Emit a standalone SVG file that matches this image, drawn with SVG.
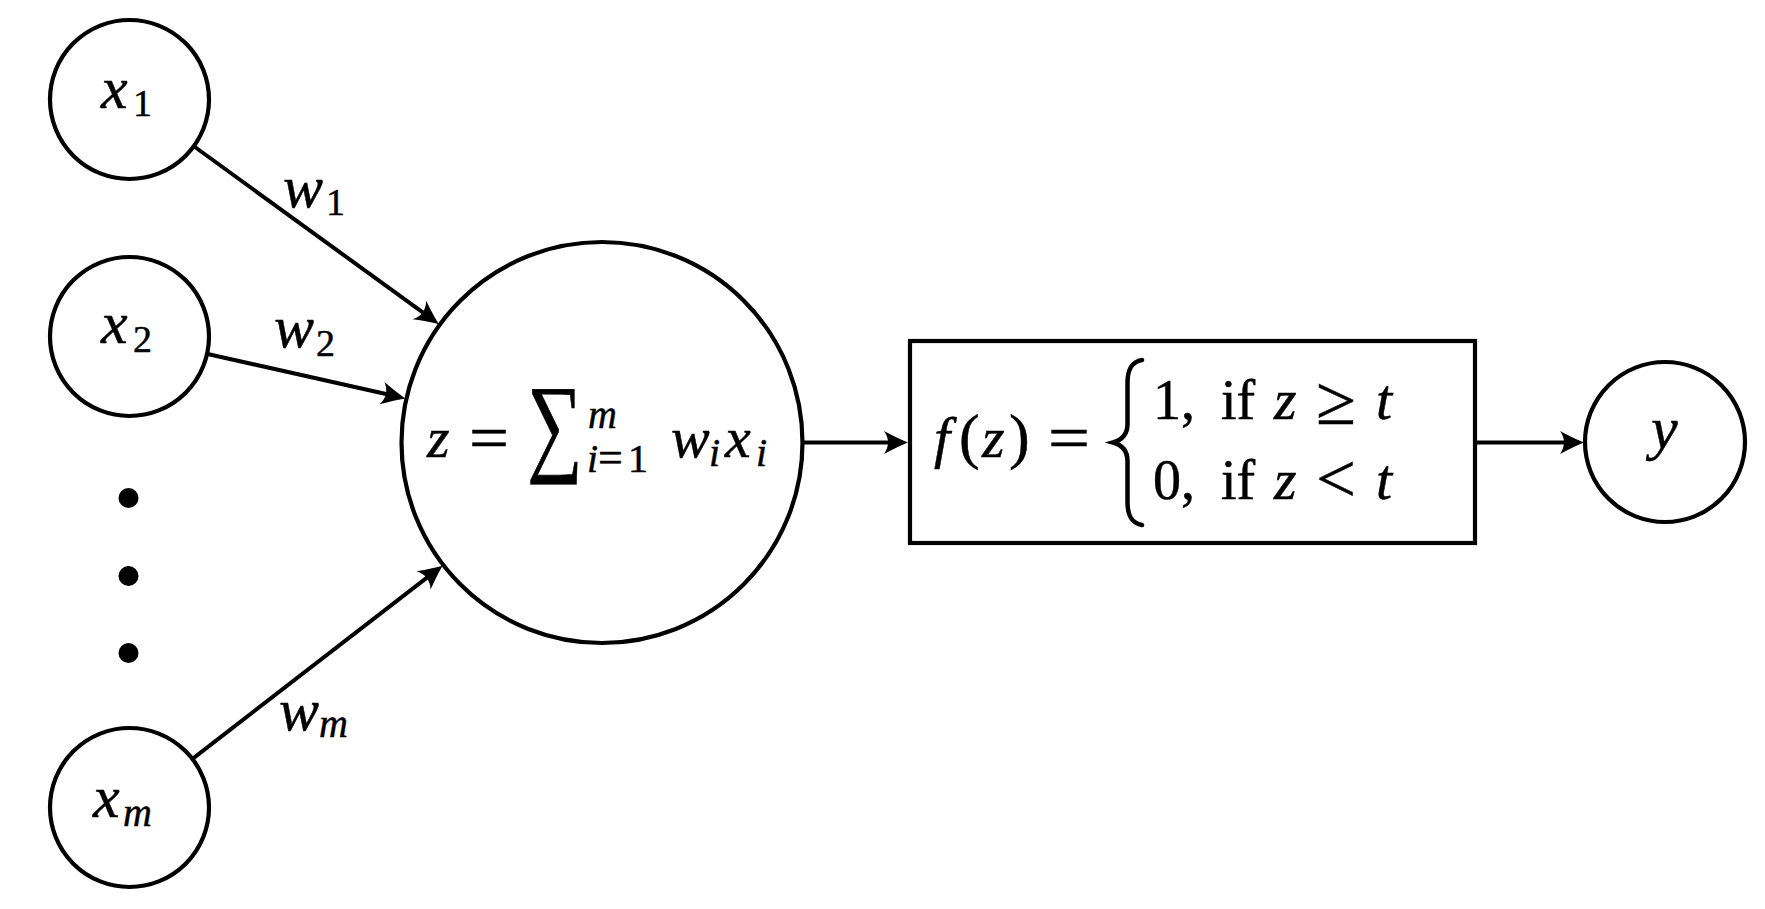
<svg xmlns="http://www.w3.org/2000/svg" width="1765" height="909" viewBox="0 0 1765 909">
<style>
.node{fill:#fff;stroke:#000;stroke-width:4.2}
.edge{fill:none;stroke:#000;stroke-width:4}
text{font-family:"Liberation Serif","Times New Roman",serif;fill:#000;stroke:#000;stroke-width:0.5}
.mi{font-style:italic;font-size:60px}
.sub{font-size:38px}
.subi{font-style:italic;font-size:40px}
.f{font-size:56px}
.fi{font-style:italic;font-size:58px}
.rel{font-size:64px}
</style>
<defs>
<marker id="arr" markerUnits="userSpaceOnUse" viewBox="0 -12 30 24" markerWidth="30" markerHeight="24" refX="22" refY="0" orient="auto">
<path d="M27,0 Q17,-4 3,-11.5 Q11,0 3,11.5 Q17,4 27,0 Z" fill="#000"/>
</marker>
</defs>
<rect width="1765" height="909" fill="#fff"/>
<g id="connectors">
<path class="edge" d="M194.2,146.5 L434.8,321.2" marker-end="url(#arr)"/>
<path class="edge" d="M207.6,354 L400.5,397.3" marker-end="url(#arr)"/>
<path class="edge" d="M192.8,758.6 L438.6,568.7" marker-end="url(#arr)"/>
<path class="edge" d="M803.5,442.5 L903,442.5" marker-end="url(#arr)"/>
<path class="edge" d="M1475,442.5 L1579,442.5" marker-end="url(#arr)"/>
<text class="mi" x="283" y="207">w</text><text class="sub" x="326" y="215">1</text>
<text class="mi" x="274" y="347">w</text><text class="sub" x="316" y="356">2</text>
<text class="mi" x="279" y="730">w</text><text class="subi" x="319" y="737">m</text>
</g>
<g id="x1">
<circle class="node" cx="129.5" cy="99.5" r="79.5"/>
<text class="mi" x="101" y="108">x</text><text class="sub" x="133" y="116">1</text>
</g>
<g id="x2">
<circle class="node" cx="129.5" cy="336.5" r="79.5"/>
<text class="mi" x="101" y="343">x</text><text class="sub" x="133" y="352">2</text>
</g>
<g id="dots">
<circle cx="128.5" cy="498" r="10"/>
<circle cx="128.5" cy="576" r="10"/>
<circle cx="128.5" cy="653" r="10"/>
</g>
<g id="xm">
<circle class="node" cx="129.5" cy="807.5" r="79.5"/>
<text class="mi" x="93" y="817">x</text><text class="subi" x="123" y="826">m</text>
</g>
<g id="sum">
<circle class="node" cx="602" cy="442.5" r="200.5"/>
<text class="fi" x="427" y="457">z</text>
<text class="rel" x="469" y="459" textLength="40" lengthAdjust="spacingAndGlyphs">=</text>
<text transform="translate(527,461) scale(1,1.4)" x="0" y="0" style="font-size:78px">∑</text>
<text class="subi" x="588" y="428">m</text>
<text y="472"><tspan class="subi" x="587">i</tspan><tspan x="598" style="font-size:44px">=</tspan><tspan x="628" style="font-size:40px">1</tspan></text>
<text y="457"><tspan class="fi" x="671">w</tspan><tspan class="subi" x="709" dy="9">i</tspan><tspan class="fi" x="725" dy="-9">x</tspan><tspan class="subi" x="756" dy="9">i</tspan></text>
</g>
<g id="step">
<rect class="node" x="910" y="341" width="565" height="202"/>
<text y="457"><tspan class="fi" x="934">f</tspan><tspan x="959" style="font-size:62px">(</tspan><tspan class="fi" x="982">z</tspan><tspan x="1009" style="font-size:62px">)</tspan></text>
<text class="rel" x="1048" y="459" textLength="42" lengthAdjust="spacingAndGlyphs">=</text>
<path d="M1142,360 C1131,362 1127.5,370 1127.5,383 L1127.5,424 C1127.5,435 1122,440 1113,442.5 C1122,445 1127.5,450 1127.5,461 L1127.5,502 C1127.5,515 1131,523 1142,525" fill="none" stroke="#000" stroke-width="4.5" stroke-linecap="round"/>
<text class="f" y="419"><tspan x="1153">1,</tspan><tspan x="1221">if</tspan><tspan class="fi" x="1274">z</tspan></text>
<text x="1316" y="424" style="font-size:70px" textLength="40" lengthAdjust="spacingAndGlyphs">≥</text>
<text class="fi" x="1376" y="419">t</text>
<text class="f" y="499"><tspan x="1153">0,</tspan><tspan x="1221">if</tspan><tspan class="fi" x="1274">z</tspan></text>
<text x="1316" y="502" style="font-size:70px" textLength="40" lengthAdjust="spacingAndGlyphs">&lt;</text>
<text class="fi" x="1376" y="499">t</text>
</g>
<g id="y">
<circle class="node" cx="1665" cy="442" r="80"/>
<text class="mi" x="1651" y="448">y</text>
</g>
</svg>
